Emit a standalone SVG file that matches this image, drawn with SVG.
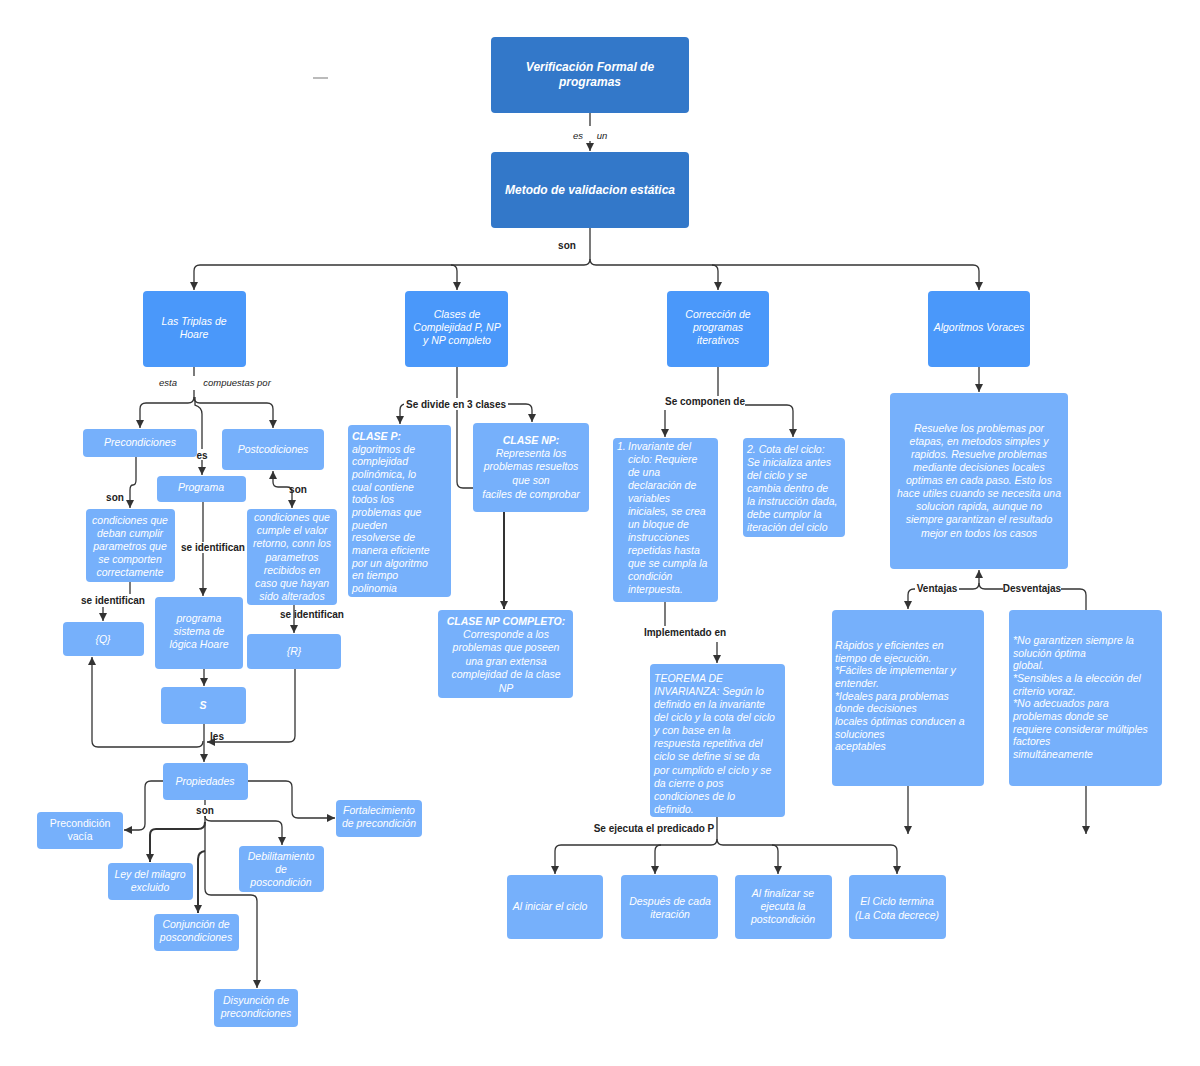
<svg xmlns="http://www.w3.org/2000/svg" width="1200" height="1066" viewBox="0 0 1200 1066">
<defs>
<marker id="ah" markerUnits="userSpaceOnUse" markerWidth="9" markerHeight="9" refX="8" refY="4" orient="auto-start-reverse"><path d="M0,0 L8,4 L0,8 z" fill="#333"/></marker>
<style>
.dk{fill:#3378C9}
.md{fill:#4A98FA}
.lt{fill:#76B0FB}
text{font-family:"Liberation Sans",Arial,sans-serif}
.t{fill:#fff;font-size:10.5px;font-style:italic;text-anchor:middle}
.tl{fill:#fff;font-size:10.5px;font-style:italic}
.tb{fill:#fff;font-size:12px;font-style:italic;font-weight:bold;text-anchor:middle}
.b{font-weight:bold}
.lb{fill:#222;font-size:10px;font-weight:bold;text-anchor:middle}
.li{fill:#222;font-size:9.5px;font-style:italic;text-anchor:middle}
.c{fill:none;stroke:#333;stroke-width:1.3}
.ca{fill:none;stroke:#333;stroke-width:1.3;marker-end:url(#ah)}
.ck{fill:none;stroke:#333;stroke-width:2;marker-end:url(#ah)}
</style>
</defs>
<rect width="1200" height="1066" fill="#fff"/>
<rect x="313" y="77" width="15" height="2" fill="#bbb"/>

<g id="connectors">
<path class="c" d="M590,113 V126"/>
<path class="ca" d="M590,141 V151"/>
<path class="c" d="M590,228 V259 Q590,265 584,265 H200 Q194,265 194,271"/>
<path class="ca" d="M194,271 V290"/>
<path class="c" d="M590,259 Q590,265 596,265 H973 Q979,265 979,271"/>
<path class="ca" d="M979,271 V290"/>
<path class="ca" d="M451,265 Q457,265 457,271 V290"/>
<path class="ca" d="M712,265 Q718,265 718,271 V290"/>

<path class="c" d="M194,367 V376"/>
<path class="c" d="M194,390 V397"/>
<path class="ca" d="M194,397 Q194,403 188,403 H146 Q140,403 140,409 V428"/>
<path class="ca" d="M194,397 Q194,403 200,403 H267 Q273,403 273,409 V428"/>
<path class="ca" d="M195,397 V405 Q202,407 202,414 V475"/>
<path class="ca" d="M136,457 V480 Q136,485 133,485 Q130,485 130,490 V508"/>
<path class="ca" d="M273,471 V482 Q273,487 278,487 H287 Q292,487 292,492 V508" marker-start="url(#ah)"/>
<path class="ca" d="M203,502 V596"/>
<path class="c" d="M130,582 V594"/>
<path class="ca" d="M103,607 V621"/>
<path class="ca" d="M294,605 V633"/>
<path class="ca" d="M204,669 V686"/>
<path class="ca" d="M204,724 V762"/>
<path class="ca" d="M203,741 Q203,747 197,747 H98 Q92,747 92,741 V657"/>
<path class="ca" d="M295,669 V736 Q295,742 289,742 H207"/>

<path class="ca" d="M163,781 H151 Q145,781 145,787 V824 Q145,830 139,830 H124"/>
<path class="ca" d="M248,781 H286 Q292,781 292,787 V812 Q292,818 298,818 H335"/>
<path class="c" d="M205,800 V805"/>
<path class="ca" d="M205,816 V889 Q205,895 211,895 H251 Q257,895 257,901 V988"/>
<path class="ca" d="M205,816 Q205,821 211,821 H276 Q282,821 282,827 V845"/>
<path class="ck" d="M205,822 Q205,829 198,829 H156 Q150,829 150,835 V862"/>
<path class="ck" d="M205,851 Q198,852 198,859 V913"/>

<path class="c" d="M457,367 V482 Q457,488 463,488 H473"/>
<path class="ca" d="M410,404 H406 Q400,404 400,410 V424"/>
<path class="ca" d="M505,404 H526 Q532,404 532,410 V422"/>
<path class="ck" d="M504,512 V609"/>

<path class="c" d="M718,367 V396"/>
<path class="ca" d="M745,405 H787 Q793,405 793,411 V437"/>
<path class="ca" d="M665,410 V437"/>
<path class="c" d="M665,602 V626"/>
<path class="ca" d="M717,642 V663"/>
<path class="c" d="M717,817 V839"/>
<path class="ca" d="M717,839 Q717,845 711,845 H561 Q555,845 555,851 V874"/>
<path class="ca" d="M661,845 Q655,845 655,851 V874"/>
<path class="ca" d="M717,839 Q717,845 723,845 H891 Q897,845 897,851 V874"/>
<path class="ca" d="M772,845 Q778,845 778,851 V874"/>

<path class="ca" d="M979,367 V392"/>
<path class="ca" d="M979,583 V570"/>
<path class="ca" d="M979,583 Q979,589 973,589 H914 Q908,589 908,595 V609"/>
<path class="c" d="M979,583 Q979,589 985,589 H1080 Q1086,589 1086,595 V610"/>
<path class="ca" d="M908,786 V834"/>
<path class="ca" d="M1086,786 V834"/>

<text class="li" x="578" y="139">es</text>
<text class="li" x="602" y="139">un</text>
<text class="lb" x="567" y="249">son</text>
<text class="li" x="168" y="386">esta</text>
<text class="li" x="237" y="386">compuestas  por</text>
<rect x="195" y="449" width="13" height="11" fill="#fff"/>
<text class="lb" x="202" y="459">es</text>
<text class="lb" x="115" y="501">son</text>
<text class="lb" x="298" y="493">son</text>
<rect x="182" y="542" width="63" height="11" fill="#fff"/>
<text class="lb" x="213" y="551">se identifican</text>
<text class="lb" x="113" y="604">se identifican</text>
<text class="lb" x="312" y="618">se identifican</text>
<text class="lb" x="217" y="740">les</text>
<text class="lb" x="205" y="814">son</text>
<rect x="404" y="398" width="104" height="12" fill="#fff"/>
<text class="lb" x="456" y="408">Se divide en 3 clases</text>
<text class="lb" x="705" y="405">Se componen de</text>
<text class="lb" x="685" y="636">Implementado en</text>
<text class="lb" x="654" y="832">Se ejecuta el predicado P</text>
<rect x="915" y="583" width="44" height="12" fill="#fff"/>
<text class="lb" x="937" y="592">Ventajas</text>
<rect x="1003" y="583" width="58" height="12" fill="#fff"/>
<text class="lb" x="1032" y="592">Desventajas</text>
</g>

<g id="n-verificacion"><rect class="dk" x="491" y="37" width="198" height="76" rx="4"/><text class="tb" x="590" y="71">Verificación  Formal  de</text><text class="tb" x="590" y="86">programas</text></g>
<g id="n-metodo"><rect class="dk" x="491" y="152" width="198" height="76" rx="4"/><text class="tb" x="590" y="194">Metodo de validacion estática</text></g>

<g id="n-triplas"><rect class="md" x="143" y="291" width="103" height="76" rx="4"/><text class="t" x="194" y="325">Las  Triplas de</text><text class="t" x="194" y="338">Hoare</text></g>
<g id="n-clases"><rect class="md" x="405" y="291" width="103" height="76" rx="4"/><text class="t" x="457" y="318">Clases de</text><text class="t" x="457" y="331">Complejidad P, NP</text><text class="t" x="457" y="344">y NP completo</text></g>
<g id="n-correccion"><rect class="md" x="667" y="291" width="102" height="76" rx="4"/><text class="t" x="718" y="318">Corrección de</text><text class="t" x="718" y="331">programas</text><text class="t" x="718" y="344">iterativos</text></g>
<g id="n-voraces"><rect class="md" x="928" y="291" width="102" height="76" rx="4"/><text class="t" x="979" y="331">Algoritmos Voraces</text></g>

<g id="n-precondiciones"><rect class="lt" x="83" y="429" width="114" height="28" rx="4"/><text class="t" x="140" y="446">Precondiciones</text></g>
<g id="n-postcondiciones"><rect class="lt" x="222" y="429" width="102" height="41" rx="4"/><text class="t" x="273" y="453">Postcodiciones</text></g>
<g id="n-programa"><rect class="lt" x="157" y="476" width="89" height="26" rx="4"/><text class="t" x="201" y="491">Programa</text></g>
<g id="n-cond-pre"><rect class="lt" x="86" y="509" width="89" height="73" rx="4"/><text class="t" x="130" y="524">condiciones que</text><text class="t" x="130" y="537">deban cumplir</text><text class="t" x="130" y="550">parametros  que</text><text class="t" x="130" y="563">se comporten</text><text class="t" x="130" y="576">correctamente</text></g>
<g id="n-cond-post"><rect class="lt" x="247" y="509" width="90" height="96" rx="4"/><text class="t" x="292" y="521">condiciones  que</text><text class="t" x="292" y="534">cumple el valor</text><text class="t" x="292" y="547">retorno, conn los</text><text class="t" x="292" y="561">parametros</text><text class="t" x="292" y="574">recibidos  en</text><text class="t" x="292" y="587">caso que hayan</text><text class="t" x="292" y="600">sido alterados</text></g>
<g id="n-q"><rect class="lt" x="63" y="622" width="81" height="34" rx="4"/><text class="t" x="103" y="643">{Q}</text></g>
<g id="n-programa-hoare"><rect class="lt" x="155" y="597" width="88" height="72" rx="4"/><text class="t" x="199" y="622">programa</text><text class="t" x="199" y="635">sistema de</text><text class="t" x="199" y="648">lógica Hoare</text></g>
<g id="n-r"><rect class="lt" x="247" y="634" width="94" height="35" rx="4"/><text class="t" x="294" y="655">{R}</text></g>
<g id="n-s"><rect class="lt" x="161" y="687" width="85" height="37" rx="4"/><text class="t b" x="203" y="709">S</text></g>
<g id="n-propiedades"><rect class="lt" x="163" y="763" width="85" height="37" rx="4"/><text class="t" x="205" y="785">Propiedades</text></g>
<g id="n-prec-vacia"><rect class="lt" x="37" y="812" width="86" height="37" rx="4"/><text class="t" style="font-style:normal" x="80" y="827">Precondición</text><text class="t" style="font-style:normal" x="80" y="840">vacía</text></g>
<g id="n-fortalecimiento"><rect class="lt" x="336" y="800" width="86" height="37" rx="4"/><text class="t" x="379" y="814">Fortalecimiento</text><text class="t" x="379" y="827">de precondición</text></g>
<g id="n-ley"><rect class="lt" x="108" y="863" width="85" height="37" rx="4"/><text class="t" x="150" y="878">Ley del milagro</text><text class="t" x="150" y="891">excluido</text></g>
<g id="n-debilitamiento"><rect class="lt" x="239" y="846" width="85" height="46" rx="4"/><text class="t" x="281" y="860">Debilitamiento</text><text class="t" x="281" y="873">de</text><text class="t" x="281" y="886">poscondición</text></g>
<g id="n-conjuncion"><rect class="lt" x="154" y="914" width="85" height="37" rx="4"/><text class="t" x="196" y="928">Conjunción de</text><text class="t" x="196" y="941">poscondiciones</text></g>
<g id="n-disyuncion"><rect class="lt" x="214" y="989" width="84" height="38" rx="4"/><text class="t" x="256" y="1004">Disyunción de</text><text class="t" x="256" y="1017">precondiciones</text></g>

<g id="n-clase-p"><rect class="lt" x="348" y="425" width="103" height="172" rx="4"/>
<text class="tl" x="352"><tspan x="352" y="440" class="b">CLASE P:</tspan><tspan x="352" y="453">algoritmos de</tspan><tspan x="352" y="465">complejidad</tspan><tspan x="352" y="478">polinómica, lo</tspan><tspan x="352" y="491">cual contiene</tspan><tspan x="352" y="503">todos los</tspan><tspan x="352" y="516">problemas que</tspan><tspan x="352" y="529">pueden</tspan><tspan x="352" y="541">resolverse de</tspan><tspan x="352" y="554">manera eficiente</tspan><tspan x="352" y="567">por un algoritmo</tspan><tspan x="352" y="579">en tiempo</tspan><tspan x="352" y="592">polinomia</tspan></text></g>
<g id="n-clase-np"><rect class="lt" x="473" y="423" width="116" height="89" rx="4"/><text class="t b" x="531" y="444">CLASE NP:</text><text class="t" x="531" y="457">Representa los</text><text class="t" x="531" y="470">problemas resueltos</text><text class="t" x="531" y="484">que son</text><text class="t" x="531" y="498">faciles de comprobar</text></g>
<g id="n-clase-npc"><rect class="lt" x="438" y="610" width="135" height="88" rx="4"/><text class="t b" x="506" y="625">CLASE NP COMPLETO:</text><text class="t" x="506" y="638">Corresponde a los</text><text class="t" x="506" y="651">problemas que poseen</text><text class="t" x="506" y="665">una gran extensa</text><text class="t" x="506" y="678">complejidad de la clase</text><text class="t" x="506" y="692">NP</text></g>

<g id="n-invariante"><rect class="lt" x="613" y="438" width="105" height="164" rx="4"/>
<text class="tl"><tspan x="617" y="450">1.</tspan><tspan x="628" y="450">Invariante del</tspan><tspan x="628" y="463">ciclo: Requiere</tspan><tspan x="628" y="476">de una</tspan><tspan x="628" y="489">declaración de</tspan><tspan x="628" y="502">variables</tspan><tspan x="628" y="515">iniciales, se crea</tspan><tspan x="628" y="528">un bloque de</tspan><tspan x="628" y="541">instrucciones</tspan><tspan x="628" y="554">repetidas hasta</tspan><tspan x="628" y="567">que se cumpla la</tspan><tspan x="628" y="580">condición</tspan><tspan x="628" y="593">interpuesta.</tspan></text></g>
<g id="n-cota"><rect class="lt" x="743" y="438" width="102" height="99" rx="4"/>
<text class="tl"><tspan x="747" y="453">2. Cota del ciclo:</tspan><tspan x="747" y="466">Se inicializa antes</tspan><tspan x="747" y="479">del ciclo y se</tspan><tspan x="747" y="492">cambia dentro de</tspan><tspan x="747" y="505">la instrucción dada,</tspan><tspan x="747" y="518">debe cumplor la</tspan><tspan x="747" y="531">iteración del ciclo</tspan></text></g>
<g id="n-teorema"><rect class="lt" x="650" y="664" width="135" height="153" rx="4"/>
<text class="tl"><tspan x="654" y="682">TEOREMA DE</tspan><tspan x="654" y="695">INVARIANZA: Según lo</tspan><tspan x="654" y="708">definido en la invariante</tspan><tspan x="654" y="721">del ciclo y la cota del ciclo</tspan><tspan x="654" y="734">y con base en la</tspan><tspan x="654" y="747">respuesta repetitiva del</tspan><tspan x="654" y="760">ciclo se define si se da</tspan><tspan x="654" y="774">por cumplido el ciclo y se</tspan><tspan x="654" y="787">da cierre o pos</tspan><tspan x="654" y="800">condiciones de lo</tspan><tspan x="654" y="813">definido.</tspan></text></g>
<g id="n-iniciar"><rect class="lt" x="507" y="875" width="96" height="64" rx="4"/><text class="t" x="550" y="910">Al iniciar el ciclo</text></g>
<g id="n-despues"><rect class="lt" x="621" y="875" width="97" height="64" rx="4"/><text class="t" x="670" y="905">Después de cada</text><text class="t" x="670" y="918">iteración</text></g>
<g id="n-finalizar"><rect class="lt" x="735" y="875" width="97" height="64" rx="4"/><text class="t" x="783" y="897">Al finalizar se</text><text class="t" x="783" y="910">ejecuta la</text><text class="t" x="783" y="923">postcondición</text></g>
<g id="n-termina"><rect class="lt" x="849" y="875" width="97" height="64" rx="4"/><text class="t" x="897" y="905">El  Ciclo termina</text><text class="t" x="897" y="919">(La Cota decrece)</text></g>

<g id="n-voraces-desc"><rect class="lt" x="890" y="393" width="178" height="176" rx="4"/>
<text class="t" x="979" y="432">Resuelve los problemas por</text><text class="t" x="979" y="445">etapas, en metodos simples y</text><text class="t" x="979" y="458">rapidos. Resuelve problemas</text><text class="t" x="979" y="471">mediante decisiones locales</text><text class="t" x="979" y="484">optimas en cada paso. Esto los</text><text class="t" x="979" y="497">hace utiles cuando se necesita una</text><text class="t" x="979" y="510">solucion rapida, aunque no</text><text class="t" x="979" y="523">siempre garantizan el resultado</text><text class="t" x="979" y="537">mejor en todos los casos</text></g>
<g id="n-ventajas"><rect class="lt" x="832" y="610" width="152" height="176" rx="4"/>
<text class="tl"><tspan x="835" y="649">Rápidos y eficientes en</tspan><tspan x="835" y="662">tiempo de ejecución.</tspan><tspan x="835" y="674">*Fáciles de implementar y</tspan><tspan x="835" y="687">entender.</tspan><tspan x="835" y="700">*Ideales para problemas</tspan><tspan x="835" y="712">donde decisiones</tspan><tspan x="835" y="725">locales óptimas conducen a</tspan><tspan x="835" y="738">soluciones</tspan><tspan x="835" y="750">aceptables</tspan></text></g>
<g id="n-desventajas"><rect class="lt" x="1009" y="610" width="153" height="176" rx="4"/>
<text class="tl"><tspan x="1013" y="644">*No garantizen siempre la</tspan><tspan x="1013" y="657">solución óptima</tspan><tspan x="1013" y="669">global.</tspan><tspan x="1013" y="682">*Sensibles a la elección del</tspan><tspan x="1013" y="695">criterio voraz.</tspan><tspan x="1013" y="707">*No adecuados para</tspan><tspan x="1013" y="720">problemas donde se</tspan><tspan x="1013" y="733">requiere considerar múltiples</tspan><tspan x="1013" y="745">factores</tspan><tspan x="1013" y="758">simultáneamente</tspan></text></g>
</svg>
